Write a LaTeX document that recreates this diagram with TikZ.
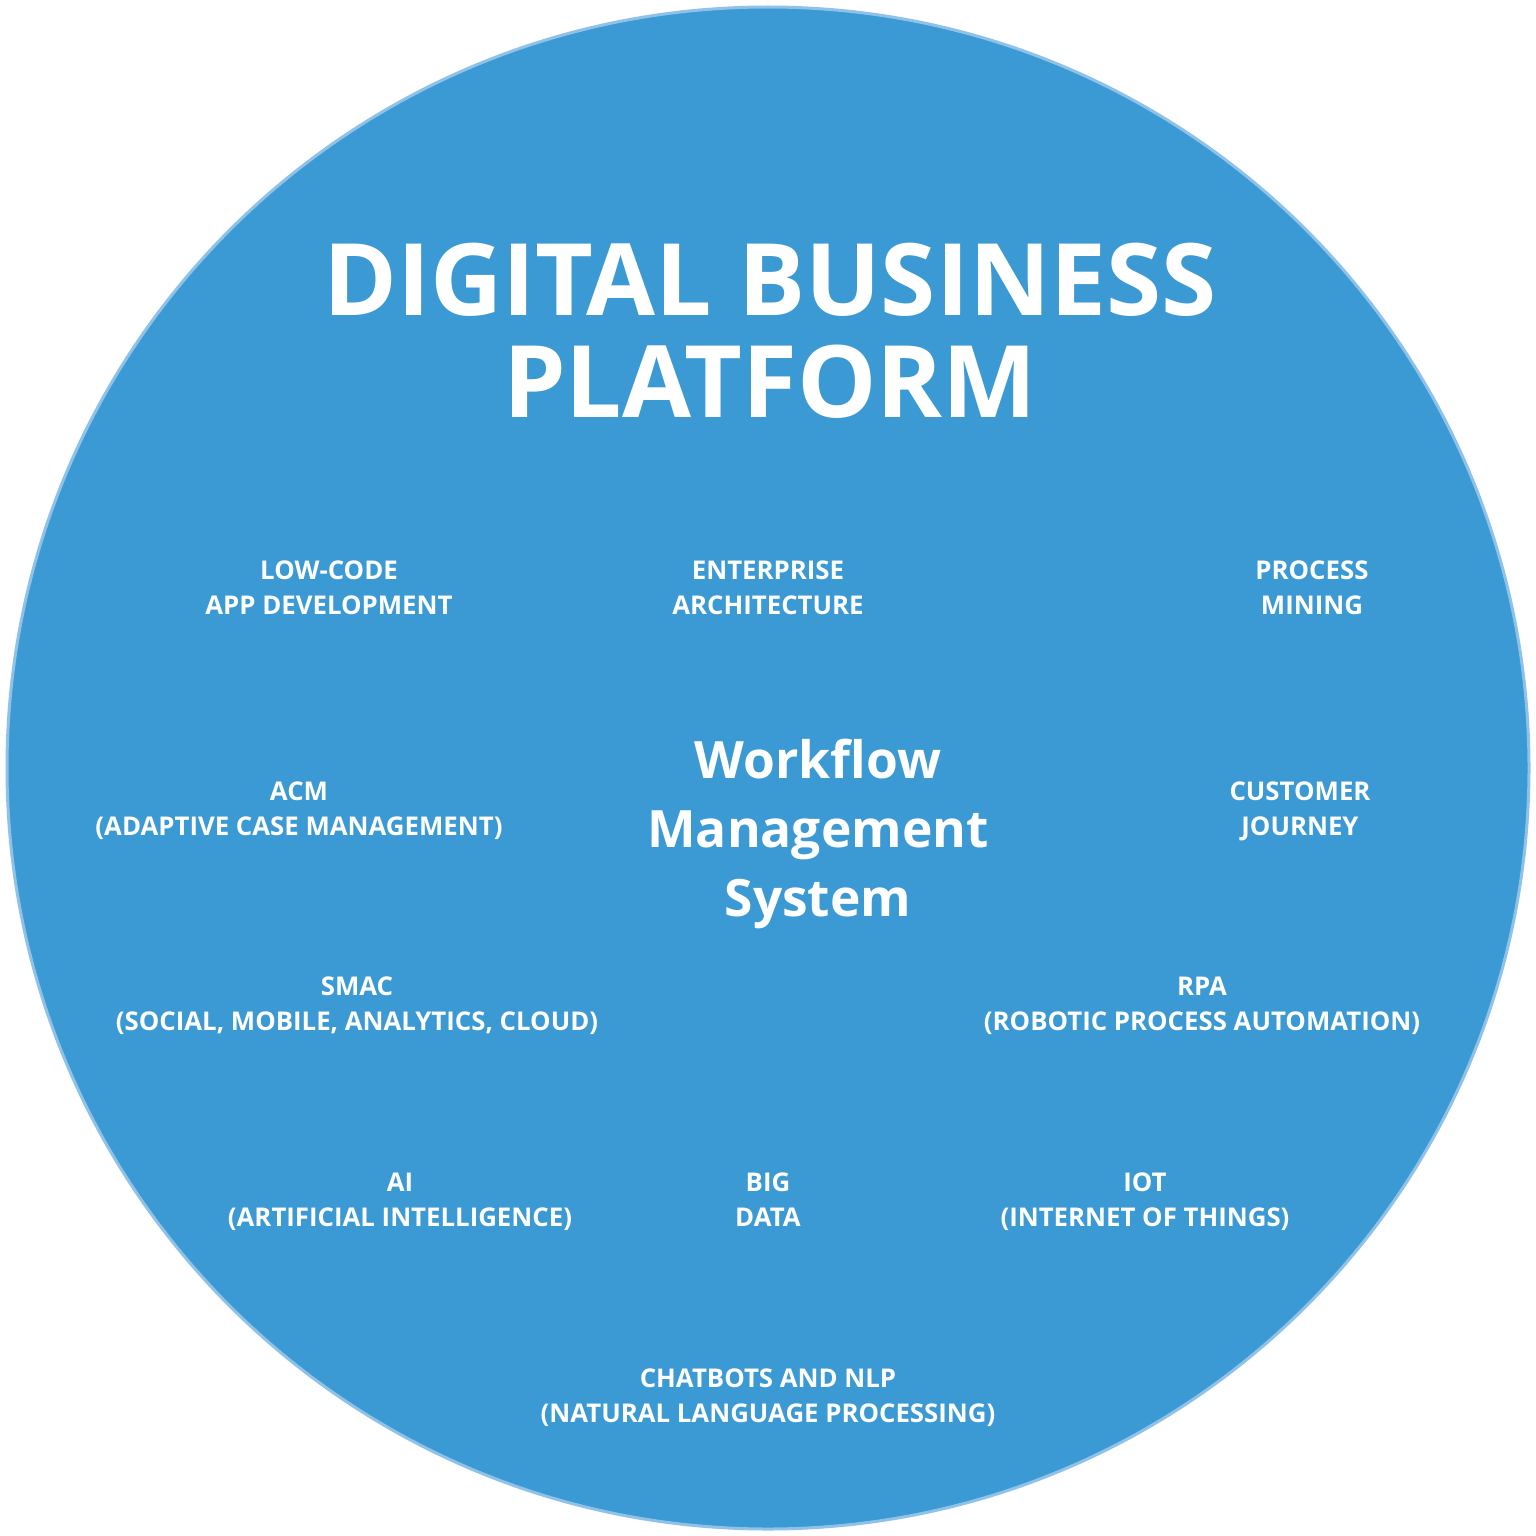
\documentclass[tikz,border=0pt]{standalone}
\usepackage{fontspec}
\setmainfont{Open Sans}
\definecolor{disc}{HTML}{3B99D4}
\definecolor{rim}{HTML}{8EC2E8}
\tikzset{
  lbl/.style={text=white, align=center, font=\fontsize{25.8}{35}\selectfont\bfseries, inner sep=0pt},
  ttl/.style={text=white, align=center, font=\fontsize{100}{102}\selectfont\bfseries, inner sep=0pt},
  core/.style={text=white, align=center, font=\fontsize{51.5}{69}\selectfont\bfseries, inner sep=0pt}
}
\begin{document}
\begin{tikzpicture}[x=1pt,y=-1pt]
\useasboundingbox (0,0) rectangle (1536,1536);
\fill[white] (0,0) rectangle (1536,1536);
\node[circle, fill=disc, draw=rim, line width=3pt, minimum size=1522pt, inner sep=0pt] (disc) at (768,768) {};
\node[ttl] (title) at (770,331) {DIGITAL BUSINESS\\PLATFORM};
\node[core] (wms) at (818,834) {Workflow\\Management\\System};
\node[lbl] (lowcode) at (329,588) {LOW-CODE\\APP DEVELOPMENT};
\node[lbl] (ea) at (768,588) {ENTERPRISE\\ARCHITECTURE};
\node[lbl] (pm) at (1312,588) {PROCESS\\MINING};
\node[lbl] (acm) at (299,811) {ACM\\(ADAPTIVE CASE MANAGEMENT)};
\node[lbl] (cj) at (1300,811) {CUSTOMER\\JOURNEY};
\node[lbl] (smac) at (357,1006) {SMAC\\(SOCIAL, MOBILE, ANALYTICS, CLOUD)};
\node[lbl] (rpa) at (1202,1006) {RPA\\(ROBOTIC PROCESS AUTOMATION)};
\node[lbl] (ai) at (400,1202) {AI\\(ARTIFICIAL INTELLIGENCE)};
\node[lbl] (bd) at (768,1200) {BIG\\DATA};
\node[lbl] (iot) at (1145,1202) {IOT\\(INTERNET OF THINGS)};
\node[lbl] (chat) at (768,1398) {CHATBOTS AND NLP\\(NATURAL LANGUAGE PROCESSING)};
\end{tikzpicture}
\end{document}
